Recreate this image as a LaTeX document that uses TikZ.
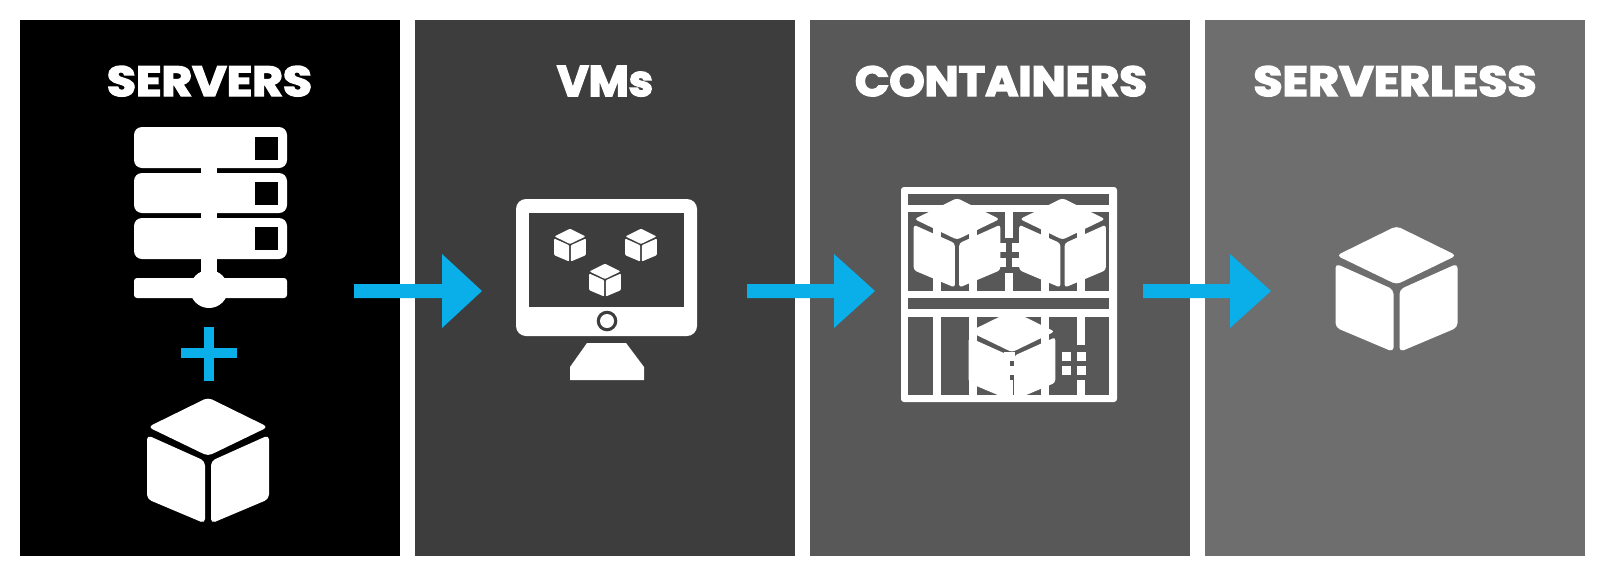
\documentclass[tikz,border=0pt]{standalone}
\usepackage{fontspec}
\usepackage{graphicx}
\newfontfamily\hdfont[BoldFeatures={FakeBold=3.5}]{Poppins}
\definecolor{pa}{HTML}{000000}
\definecolor{pb}{HTML}{3D3D3D}
\definecolor{pc}{HTML}{585858}
\definecolor{pd}{HTML}{6F6E6E}
\definecolor{accent}{HTML}{0AAEE8}
\newcommand{\ttltext}[3]{\resizebox{#1pt}{#2pt}{\hdfont\bfseries #3}}
\tikzset{
  panelbox/.style={minimum width=380pt,minimum height=536pt,inner sep=0pt,outer sep=0pt,draw=none,anchor=north west},
  titletext/.style={text=white,inner sep=0pt,anchor=base},
  cubeicon/.pic={
    \fill[white] (0,-62.5)--(60,-33)--(0,-4)--(-60,-33)--cycle;
    \fill[white] (-61,-25)--(-3,1)--(-3,63.5)--(-61,39)--cycle;
    \fill[white] (3,1)--(61,-25)--(61,39)--(3,63.5)--cycle;
  }
}
\begin{document}
\begin{tikzpicture}[x=1pt,y=-1pt]
\useasboundingbox (0,0) rectangle (1600,576);
\fill[white] (0,0) rectangle (1600,576);
% panels
\node[panelbox,fill=pa] (p1) at (20,19.5) {};
\node[panelbox,fill=pb] (p2) at (415,19.5) {};
\node[panelbox,fill=pc] (p3) at (810,19.5) {};
\node[panelbox,fill=pd] (p4) at (1205,19.5) {};
% titles
\node[titletext] (t1) at (209.5,96) {\ttltext{205}{30}{SERVERS}};
\node[titletext] (t2) at (605,96) {\ttltext{96}{30}{VMs}};
\node[titletext] (t3) at (1001,96) {\ttltext{292}{30}{CONTAINERS}};
\node[titletext] (t4) at (1395,96) {\ttltext{283}{30}{SERVERLESS}};
% server icon
\fill[white] (201,165) rectangle (217,285);
\fill[white,rounded corners=3pt] (134,278) rectangle (287,298);
\fill[white] (209,289) circle (19);
\foreach \yy/\hh in {127/168,173/213,218/259}{
  \fill[white,rounded corners=8pt] (134,\yy) rectangle (287,\hh);
}
\foreach \yy in {137,182,227}{
  \fill[pa] (255,\yy) rectangle (278,\yy+22.5);
}
% plus
\fill[accent] (181,348) rectangle (237,358);
\fill[accent] (204,327) rectangle (214,381);
% big cubes
\pic[rounded corners=4.5pt] at (208,460) {cubeicon};
\pic[rounded corners=4.5pt] at (1396.5,288.5) {cubeicon};
% monitor
\fill[white,rounded corners=10pt] (516,199) rectangle (697,336);
\fill[pb] (529,213) rectangle (684,307);
\fill[pb] (607,321) circle (10.3);
\fill[white] (607,321) circle (7);
\fill[white] (587,343)--(626,343)--(644,367)--(644,380)--(570,380)--(570,367)--cycle;
\pic[scale=.26,rounded corners=1pt] at (570,245) {cubeicon};
\pic[scale=.26,rounded corners=1pt] at (641,245) {cubeicon};
\pic[scale=.26,rounded corners=1pt] at (605,280) {cubeicon};
% container rack
\fill[white,rounded corners=3pt] (901,187) rectangle (1117,402);
\fill[pc] (908,194) rectangle (1109,205);
\fill[pc] (908,298) rectangle (1109,309);
\foreach \xa/\xb in {908/933,941/969,977/1005,1013/1041,1049/1077,1085/1109}{
  \fill[pc] (\xa,212) rectangle (\xb,291);
  \fill[pc] (\xa,317) rectangle (\xb,395);
}
% small grids
\fill[pc] (993,238) rectangle (1025,273);
\foreach \xx in {997,1012}\foreach \yy in {243,258}{
  \fill[white] (\xx,\yy) rectangle (\xx+9,\yy+9);
}
\fill[pc] (1002,345) rectangle (1016,380);
\foreach \yy in {352,366}{
  \fill[white] (1004,\yy) rectangle (1014.5,\yy+8.5);
}
\fill[pc] (1049,345) rectangle (1090,380);
\foreach \xx in {1062,1077}\foreach \yy in {352,366}{
  \fill[white] (\xx,\yy) rectangle (\xx+8.5,\yy+8.5);
}
\pic[scale=.71,rounded corners=3pt] at (957,242.5) {cubeicon};
\pic[scale=.71,rounded corners=3pt] at (1062.5,242.5) {cubeicon};
\pic[scale=.71,rounded corners=3pt] at (1012,355) {cubeicon};
% arrows
\fill[accent] (354,284)--(442,284)--(442,254)--(482,291)--(442,328)--(442,298)--(354,298)--cycle;
\fill[accent] (747,284)--(834,284)--(834,254)--(875,291)--(834,328)--(834,298)--(747,298)--cycle;
\fill[accent] (1143,284)--(1230,284)--(1230,254)--(1271,291)--(1230,328)--(1230,298)--(1143,298)--cycle;
\end{tikzpicture}
\end{document}
